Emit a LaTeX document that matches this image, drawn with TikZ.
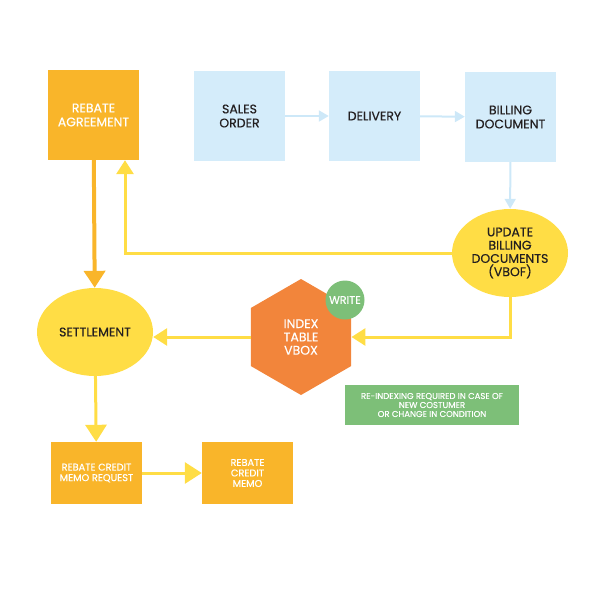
\documentclass[tikz,border=0pt]{standalone}
\usepackage{fontspec}
\setmainfont{Poppins}[FakeBold=0.4]
\usetikzlibrary{arrows.meta,shapes.geometric}

\definecolor{rebateorange}{HTML}{F9B52A}
\definecolor{docblue}{HTML}{D4ECFA}
\definecolor{linkblue}{HTML}{CDE8F8}
\definecolor{vbofyellow}{HTML}{FFDD45}
\definecolor{vboxorange}{HTML}{F2853B}
\definecolor{notegreen}{HTML}{7DBF78}
\definecolor{textdark}{HTML}{231F20}

\begin{document}
\begin{tikzpicture}[x = 1pt, y = -1pt,
    orangebox/.style = {fill=rebateorange, text=white, minimum width=91pt, minimum height=90pt, align=center, font=\fontsize{12.5}{14}\selectfont},
    memobox/.style = {fill=rebateorange, text=white, minimum width=91pt, minimum height=62pt, align=center, font=\fontsize{9.8}{10.5}\selectfont},
    bluebox/.style = {fill=docblue, text=textdark, minimum width=91pt, minimum height=90pt, align=center, font=\fontsize{12.5}{14}\selectfont},
    yellowoval/.style = {ellipse, fill=vbofyellow, text=textdark, minimum width=116pt, minimum height=88pt, inner sep=0pt, align=center, font=\fontsize{12.5}{13.3}\selectfont},
    bluelink/.style = {draw=linkblue, line width=2pt, -{Triangle[length=10pt, width=11pt]}},
    yellowlink/.style = {draw=vbofyellow, line width=3pt, -{Triangle[length=14pt, width=17pt]}},
    biglink/.style = {draw=vbofyellow, line width=3pt, -{Triangle[length=17pt, width=21pt]}}]
    \useasboundingbox (0,0) rectangle (596,595);
    % top row
    \node[orangebox] (rebate) at (93.5,115) {REBATE\\AGREEMENT};
    \node[bluebox] (sales) at (239.5,116) {SALES\\ORDER};
    \node[bluebox] (delivery) at (374.5,116) {DELIVERY};
    \node[bluebox] (billing) at (510.5,117) {BILLING\\DOCUMENT};
    % middle
    \node[yellowoval] (update) at (510,253) {UPDATE\\BILLING\\DOCUMENTS\\(VBOF)};
    \node[yellowoval] (settle) at (95,332) {SETTLEMENT};
    \node[regular polygon, regular polygon sides=6, shape border rotate=30, minimum size=116pt, inner sep=0pt, fill=vboxorange, text=white, align=center, font=\fontsize{12.5}{13.3}\selectfont] (vbox) at (301,337) {INDEX\\TABLE\\VBOX};
    \node[circle, fill=notegreen, text=white, minimum size=39pt, inner sep=0pt, font=\fontsize{11}{12}\selectfont] (write) at (345,300) {WRITE};
    \node[fill=notegreen, text=white, minimum width=174pt, minimum height=40pt, align=center, font=\fontsize{8.5}{9}\selectfont] (note) at (432,405) {RE-INDEXING REQUIRED IN CASE OF\\NEW COSTUMER\\OR CHANGE IN CONDITION};
    % bottom row
    \node[memobox] (memoreq) at (96.5,473) {REBATE CREDIT\\MEMO REQUEST};
    \node[memobox] (memo) at (247.5,473) {REBATE\\CREDIT\\MEMO};
    % links
    \draw[bluelink] (sales) -- (delivery);
    \draw[bluelink] (delivery) -- (billing);
    \draw[bluelink] (billing) -- (update);
    \draw[yellowlink] (update.west) -| ([xshift=31.5pt]rebate.south);
    \draw[draw=rebateorange, line width=4pt, -{Triangle[length=17pt, width=21pt]}] (rebate) -- (settle);
    \draw[yellowlink] (update.south) |- (vbox.east);
    \draw[yellowlink] (vbox.west) -- (settle.east |- vbox.west);
    \draw[biglink] (settle) -- (memoreq);
    \draw[biglink] (memoreq) -- (memo);
\end{tikzpicture}
\end{document}
